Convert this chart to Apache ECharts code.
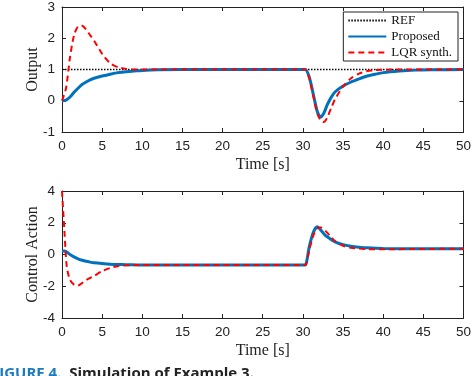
<!DOCTYPE html>
<html>
<head>
<meta charset="utf-8">
<script src="https://cdn.jsdelivr.net/npm/echarts@6/dist/echarts.min.js"></script>
<style>
  html, body { margin: 0; padding: 0; background: #fff; }
  #chart { width: 474px; height: 376px; }
</style>
</head>
<body>
<div id="chart"></div>
<script>
// output plot (top)
var tOut = [0, 0.5, 1, 1.5, 2, 2.5, 3, 3.5, 4, 5, 6, 7, 8, 9, 10, 12, 15, 20, 25, 30, 30.3, 30.8, 31.3, 31.8, 32.2, 32.6, 33, 33.5, 34, 35, 36, 37, 38, 39, 40, 42, 44, 46, 50];
var propOut = [0, 0.02, 0.12, 0.27, 0.4, 0.52, 0.6, 0.67, 0.72, 0.79, 0.85, 0.9, 0.93, 0.95, 0.97, 0.99, 1, 1, 1, 1, 1, 0.75, 0.2, -0.35, -0.52, -0.4, -0.15, 0.1, 0.28, 0.47, 0.6, 0.7, 0.79, 0.85, 0.9, 0.95, 0.98, 0.99, 1];
var lqrOut = [0, 0.4, 1.4, 2.1, 2.38, 2.4, 2.28, 2.1, 1.92, 1.5, 1.2, 1.07, 1.02, 1.0, 1, 1, 1, 1, 1, 1, 1, 0.72, 0.15, -0.4, -0.62, -0.68, -0.55, -0.25, 0.05, 0.45, 0.72, 0.87, 0.95, 0.98, 0.99, 1, 1, 1, 1];
var tRef = [0, 50];
var refOut = [1, 1];

// control action plot (bottom)
var tCtl = [0, 0.3, 0.6, 1, 1.5, 2, 2.5, 3, 3.5, 4, 5, 6, 7, 8, 10, 15, 20, 25, 30, 30.3, 30.8, 31.3, 31.8, 32.3, 32.8, 33.5, 34, 35, 36, 37, 38, 40, 45, 50];
var propCtl = [0.22, 0.22, 0.15, 0.0, -0.15, -0.27, -0.36, -0.43, -0.48, -0.52, -0.57, -0.61, -0.63, -0.64, -0.66, -0.66, -0.66, -0.66, -0.66, -0.66, 0.5, 1.4, 1.75, 1.5, 1.2, 0.95, 0.8, 0.62, 0.52, 0.46, 0.42, 0.38, 0.36, 0.36];
var lqrCtl = [4, 1.5, -0.8, -1.6, -1.9, -1.95, -1.8, -1.62, -1.48, -1.35, -1.05, -0.85, -0.73, -0.68, -0.66, -0.66, -0.66, -0.66, -0.66, -0.66, 0.3, 1.2, 1.65, 1.7, 1.5, 1.1, 0.85, 0.55, 0.42, 0.37, 0.34, 0.33, 0.35, 0.36];

function pairs(t, v) {
    return t.map(function (x, i) { return [x, v[i]]; });
}

var chart = echarts.init(document.getElementById('chart'));

var tickStyle = { inside: true, length: 4, lineStyle: { color: '#222', width: 1 } };
var axLine = { show: true, onZero: false, lineStyle: { color: '#222', width: 1 } };
var tickFont = { color: '#222', fontFamily: 'Liberation Sans', fontSize: 13.5 };
var serif = 'Liberation Serif';

function xAxes(gi) {
    return [{
        type: 'value', gridIndex: gi, min: 0, max: 50, interval: 5,
        axisLine: axLine, axisTick: tickStyle, splitLine: { show: false },
        axisLabel: Object.assign({ margin: 7 }, tickFont),
        name: 'Time [s]', nameLocation: 'middle', nameGap: 25, nameMoveOverlap: false,
        nameTextStyle: { fontFamily: serif, fontSize: 16, color: '#222' }
    }, {
        type: 'value', gridIndex: gi, min: 0, max: 50, interval: 5, position: 'top',
        axisLine: axLine, axisTick: tickStyle, axisLabel: { show: false }, splitLine: { show: false }
    }];
}

function yAxes(gi, mn, mx, step, label) {
    return [{
        type: 'value', gridIndex: gi, min: mn, max: mx, interval: step,
        axisLine: axLine, axisTick: tickStyle, splitLine: { show: false },
        axisLabel: Object.assign({ margin: 7 }, tickFont),
        name: label, nameLocation: 'middle', nameGap: 21, nameRotate: 90, nameMoveOverlap: false,
        nameTextStyle: { fontFamily: serif, fontSize: 16, color: '#222' }
    }, {
        type: 'value', gridIndex: gi, min: mn, max: mx, interval: step, position: 'right',
        axisLine: axLine, axisTick: tickStyle, axisLabel: { show: false }, splitLine: { show: false }
    }];
}

var blue = '#0072BD';
var red = '#FF0000';

chart.setOption({
    animation: false,
    backgroundColor: '#fff',
    grid: [
        { left: 62, right: 7, top: 5, height: 127 },
        { left: 62, right: 7, top: 191, height: 127 }
    ],
    xAxis: xAxes(0).concat(xAxes(1)),
    yAxis: yAxes(0, -1, 3, 1, 'Output').concat(yAxes(1, -4, 4, 2, 'Control Action')),
    legend: {
        orient: 'vertical', right: 16, top: 12,
        itemWidth: 38, itemHeight: 10, itemGap: 3,
        padding: [2, 6, 2, 4],
        borderColor: '#222', borderWidth: 1, backgroundColor: '#fff',
        itemStyle: { opacity: 0 },
        textStyle: { fontFamily: serif, fontSize: 13, color: '#111' },
        data: ['REF', 'Proposed', 'LQR synth.']
    },
    series: [
        { name: 'REF', type: 'line', xAxisIndex: 0, yAxisIndex: 0, data: pairs(tRef, refOut),
          symbol: 'none', z: 1, lineStyle: { color: '#000', width: 1.5, type: [1.5, 1.5] }, itemStyle: { color: '#000' } },
        { name: 'Proposed', type: 'line', xAxisIndex: 0, yAxisIndex: 0, data: pairs(tOut, propOut),
          symbol: 'none', smooth: 0.25, z: 2, lineStyle: { color: blue, width: 3 }, itemStyle: { color: blue } },
        { name: 'LQR synth.', type: 'line', xAxisIndex: 0, yAxisIndex: 0, data: pairs(tOut, lqrOut),
          symbol: 'none', smooth: 0.25, z: 3, lineStyle: { color: red, width: 2, type: [6, 4] }, itemStyle: { color: red } },
        { name: 'Proposed', type: 'line', xAxisIndex: 2, yAxisIndex: 2, data: pairs(tCtl, propCtl),
          symbol: 'none', smooth: 0.25, z: 2, lineStyle: { color: blue, width: 3 }, itemStyle: { color: blue } },
        { name: 'LQR synth.', type: 'line', xAxisIndex: 2, yAxisIndex: 2, data: pairs(tCtl, lqrCtl),
          symbol: 'none', smooth: 0.25, z: 3, lineStyle: { color: red, width: 2, type: [6, 4] }, itemStyle: { color: red } }
    ],
    graphic: [{
        type: 'text', left: -9, top: 366,
        style: {
            rich: {
                a: { fontFamily: 'Open Sans', fontWeight: 'bold', fontSize: 15, fill: '#1a7ac0' },
                b: { fontFamily: 'Open Sans', fontWeight: 'bold', fontSize: 15, fill: '#222' }
            },
            text: '{a|FIGURE 4.}{b|  Simulation of Example 3.}'
        }
    }]
});
</script>
</body>
</html>
